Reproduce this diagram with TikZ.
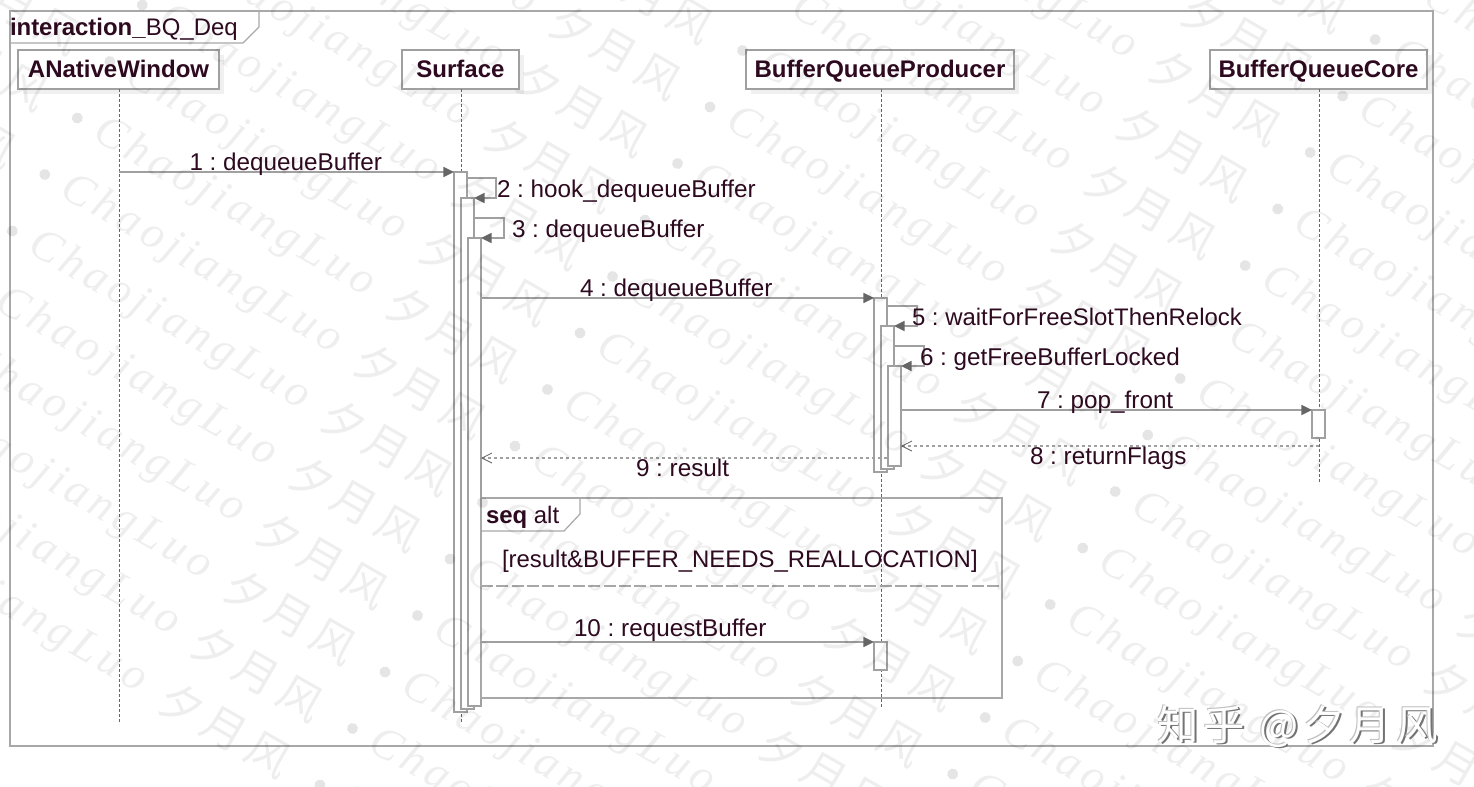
\documentclass[tikz,border=0pt]{standalone}
\usepackage{fontspec}
\setmainfont{Liberation Sans}
\newfontfamily\wmlat[LetterSpace=11]{Liberation Serif}
\newfontfamily\cjk{Noto Sans CJK SC}
\newfontfamily\cjkl[LetterSpace=12]{Noto Sans CJK SC}
\usetikzlibrary{arrows.meta,shadows,calc}
\definecolor{txt}{HTML}{2E0A20}
\definecolor{ln}{HTML}{A0A0A0}
\definecolor{fr}{HTML}{A8A8A8}
\definecolor{hd}{HTML}{666666}
\definecolor{wmc}{HTML}{000000}
\tikzset{
  x=0.75pt,y=-0.75pt,
  lab/.style={anchor=base west,inner sep=0pt,outer sep=0pt,text=txt,font=\fontsize{18.2}{20}\selectfont\frenchspacing},
  labn/.style={lab,font=\fontsize{17.95}{20}\selectfont\frenchspacing},
  life/.style={draw=ln,line width=0.95pt,fill=white,inner sep=0pt,outer sep=0pt,minimum height=29.25pt,text=txt,
     text height=13.25pt,text depth=2pt,
     font=\fontsize{18}{20}\selectfont\bfseries,
     general shadow={shadow xshift=3.75pt,shadow yshift=-3.75pt,fill=black!6}},
  act/.style={draw=ln,line width=1.2pt,fill=white,inner sep=0pt,outer sep=0pt,minimum width=9.75pt},
  lifeline/.style={draw=hd,line width=0.7pt,dash pattern=on 2.25pt off 1.5pt},
  msg/.style={draw=ln,line width=1.2pt,-{Triangle[length=8pt,width=7.5pt,fill=hd,color=hd]}},
  ret/.style={draw=ln,line width=0.9pt,dash pattern=on 2.25pt off 2.25pt,-{Straight Barb[length=7.5pt,width=7.5pt,color=hd,line width=0.6pt]}},
  frameline/.style={draw=fr,line width=1.3pt},
  wmk/.style={inner sep=0pt,text=wmc,text opacity=0.065},
}
\newcommand{\actbox}[4]{\node[act,minimum height={(#4-#3)*0.75pt}] (#1) at (#2,{(#3+#4)/2}) {};}
\begin{document}
\begin{tikzpicture}
\useasboundingbox (0,0) rectangle (1474,786);
\fill[white] (0,0) rectangle (1474,786);

% outer frame
\coordinate (fTL) at (10,11);
\coordinate (fBR) at (1433,746);
\draw[frameline] (fTL) rectangle (fBR);
\coordinate (tabA) at (259,11);
\coordinate (tabB) at (259,27);
\coordinate (tabC) at (243,43);
\coordinate (tabD) at (10,43);
\draw[draw=fr,line width=0.9pt] (tabA) -- (tabB) -- (tabC) -- (tabD);
\node[labn] (title) at (10,35) {\textbf{interaction\_}BQ\_Deq};

% lifeline heads
\node[life,minimum width=150.75pt] (hA) at (118.5,69.5) {ANativeWindow};
\node[life,minimum width=87.75pt] (hS) at (460.5,69.5) {Surface};
\node[life,minimum width=201pt] (hP) at (880,69.5) {BufferQueueProducer};
\node[life,minimum width=162.75pt] (hC) at (1318.5,69.5) {BufferQueueCore};

% lifelines
\coordinate (eA) at (119,724);
\coordinate (eS) at (461,724);
\coordinate (eP) at (881,708);
\coordinate (eC) at (1319,482);
\draw[lifeline] (hA.south -| eA) -- (eA);
\draw[lifeline] (hS.south -| eS) -- (eS);
\draw[lifeline] (hP.south -| eP) -- (eP);
\draw[lifeline] (hC.south -| eC) -- (eC);

% activations
\actbox{actSa}{460.5}{172}{712}
\actbox{actSb}{467.5}{198}{709}
\actbox{actSc}{474.5}{238}{706}
\actbox{actPa}{880.5}{298}{472}
\actbox{actPb}{887.5}{326}{469}
\actbox{actPc}{894.5}{366}{466}
\actbox{actC}{1318.5}{410}{438}
\actbox{actR}{880.5}{642}{670}

% messages
\coordinate (m1s) at (119,172);
\draw[msg] (m1s) -- (actSa.north west);
\coordinate (m2s) at (467,178);
\coordinate (m2c) at (496,198);
\draw[msg] (m2s) -| (m2c) -- (actSb.north east);
\coordinate (m3s) at (474,218);
\coordinate (m3c) at (504,238);
\draw[msg] (m3s) -| (m3c) -- (actSc.north east);
\coordinate (m4s) at (481,298);
\draw[msg] (m4s) -- (actPa.north west);
\coordinate (m5s) at (887,306);
\coordinate (m5c) at (917,326);
\draw[msg] (m5s) -| (m5c) -- (actPb.north east);
\coordinate (m6s) at (894,346);
\coordinate (m6c) at (924,366);
\draw[msg] (m6s) -| (m6c) -- (actPc.north east);
\coordinate (m7s) at (901,410);
\draw[msg] (m7s) -- (actC.north west);
\coordinate (m8s) at (1319,446);
\coordinate (m8e) at (901,446);
\draw[ret] (m8s) -- (m8e);
\coordinate (m9s) at (887,458);
\coordinate (m9e) at (481,458);
\draw[ret] (m9s) -- (m9e);
\coordinate (m10s) at (481,642);
\draw[msg] (m10s) -- (actR.north west);

% labels
\node[lab] (l1) at (189.5,170) {1 : dequeueBuffer};
\node[lab] (l2) at (497,197) {2 : hook\_dequeueBuffer};
\node[lab] (l3) at (512,237) {3 : dequeueBuffer};
\node[lab] (l4) at (580,296) {4 : dequeueBuffer};
\node[labn] (l5) at (912,325) {5 : waitForFreeSlotThenRelock};
\node[lab] (l6) at (920,365) {6 : getFreeBufferLocked};
\node[lab] (l7) at (1037,408) {7 : pop\_front};
\node[lab] (l8) at (1030,464) {8 : returnFlags};
\node[lab] (l9) at (636,476) {9 : result};
\node[lab] (l10) at (574,636) {10 : requestBuffer};

% combined fragment
\coordinate (sTL) at (481,498);
\coordinate (sBR) at (1002,698);
\draw[frameline] (sTL) rectangle (sBR);
\coordinate (sA) at (580,498);
\coordinate (sB) at (580,514);
\coordinate (sC) at (564,531);
\coordinate (sD) at (481,531);
\draw[draw=fr,line width=0.9pt] (sA) -- (sB) -- (sC) -- (sD);
\node[labn] (seqt) at (486,523) {\textbf{seq} alt};
\node[labn] (guard) at (502,567) {[result\&BUFFER\_NEEDS\_REALLOCATION]};
\coordinate (dA) at (481,586);
\coordinate (dB) at (1002,586);
\draw[draw=fr,line width=1.1pt,dash pattern=on 9pt off 2.5pt] (dA) -- (dB);

% watermark
\begin{scope}
\clip (0,0) rectangle (1474,786);
\foreach \i in {-9,...,12}{
 \foreach \j in {-2,...,2}{
  \pgfmathsetmacro{\wx}{710-32.5*\i+470.2*\j}
  \pgfmathsetmacro{\wy}{107+56.5*\i+271.5*\j}
  \begin{scope}[shift={(\wx,\wy)},rotate=-30]
   \fill[black,opacity=0.1] (0,0) circle[radius=5.5];
   \node[wmk,rotate=-30] at (181,0) {\fontsize{34}{36}\selectfont\wmlat\itshape ChaojiangLuo};
   \node[wmk,rotate=-30] at (383,0) {\fontsize{33}{35}\selectfont\cjk 夕};
   \node[wmk,rotate=-30] at (432,0) {\fontsize{33}{35}\selectfont\cjk 月};
   \node[wmk,rotate=-30] at (483,0) {\fontsize{33}{35}\selectfont\cjk 风};
  \end{scope}
 }
}
\end{scope}

% logo
\node[inner sep=0pt,text=black!55] (logoS) at (1299.5,728) {\fontsize{31}{33}\selectfont\cjkl 知乎 @夕月风};
\node[inner sep=0pt,text=black!25] (logoM) at (1296.5,725.5) {\fontsize{31}{33}\selectfont\cjkl 知乎 @夕月风};
\node[inner sep=0pt,text=white] (logo) at (1297.5,726.5) {\fontsize{31}{33}\selectfont\cjkl 知乎 @夕月风};
\end{tikzpicture}
\end{document}
